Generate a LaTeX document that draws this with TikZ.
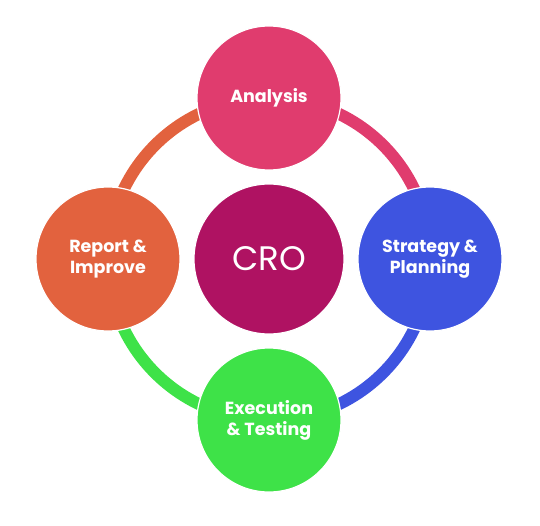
\documentclass[tikz,border=0pt]{standalone}
\usepackage{fontspec}
\setmainfont{Poppins}
\usetikzlibrary{backgrounds}

\definecolor{crocol}{HTML}{AF1262}
\definecolor{analysiscol}{HTML}{E03C6E}
\definecolor{strategycol}{HTML}{3E54E0}
\definecolor{executioncol}{HTML}{3EE248}
\definecolor{reportcol}{HTML}{E2623E}

\begin{document}
\begin{tikzpicture}[x=1pt, y=1pt, node distance=161pt, align=center, text=white,
    every node/.style={circle, draw=white, line width=1.2pt, inner sep=0pt, minimum size=144pt,
      font=\fontsize{17.5}{21}\selectfont\bfseries},
    ring/.style={line width=12pt}]
  \useasboundingbox (-269,-266) rectangle (271,259);

  \node (cro) [fill=crocol, minimum size=150pt, font=\fontsize{34}{40}\selectfont] {CRO};
  \node (analysis) [fill=analysiscol, above of=cro] {Analysis};
  \node (strategy) [fill=strategycol, right of=cro] {Strategy \&\\Planning};
  \node (execution) [fill=executioncol, below of=cro] {Execution\\\& Testing};
  \node (report) [fill=reportcol, left of=cro] {Report \&\\Improve};

  % Ring behind the circles, one quarter per step
  \begin{scope}[on background layer]
    \draw[ring, analysiscol] (analysis.center) to[out=0, in=90] (strategy.center);
    \draw[ring, strategycol] (strategy.center) to[out=-90, in=0] (execution.center);
    \draw[ring, executioncol] (execution.center) to[out=180, in=-90] (report.center);
    \draw[ring, reportcol] (report.center) to[out=90, in=180] (analysis.center);
  \end{scope}
\end{tikzpicture}
\end{document}
